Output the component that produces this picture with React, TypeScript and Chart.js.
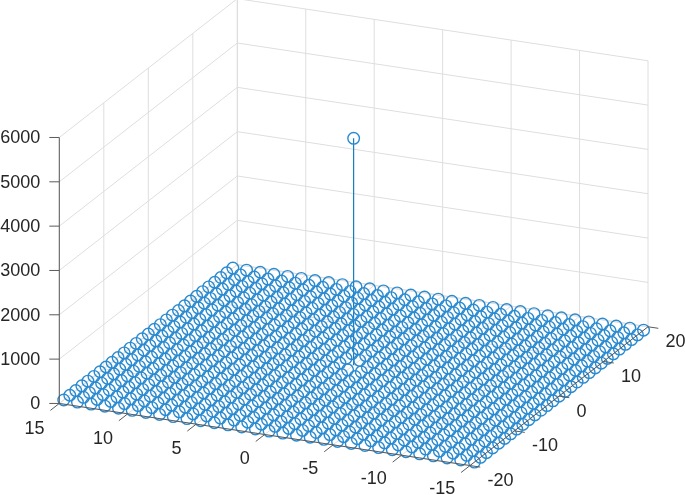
import React, { useEffect, useRef } from "react";
import { Chart, registerables } from "chart.js";

Chart.register(...registerables);

// Values
const xValues = [-15,-14,-13,-12,-11,-10,-9,-8,-7,-6,-5,-4,-3,-2,-1,0,1,2,3,4,5,6,7,8,9,10,11,12,13,14,15];
const yValues = [-19,-17.64,-16.29,-14.93,-13.57,-12.21,-10.86,-9.5,-8.14,-6.79,-5.43,-4.07,-2.71,-1.36,0,1.36,2.71,4.07,5.43,6.79,8.14,9.5,10.86,12.21,13.57,14.93,16.29,17.64,19];
const peakX = 0;
const peakY = 0;
const peakZ = 5116;
const xTicks = [15, 10, 5, 0, -5, -10, -15];
const yTicks = [-20, -10, 0, 10, 20];
const zTicks = [0, 1000, 2000, 3000, 4000, 5000, 6000];

const BLUE = "#0072BD";
const GRID = "#dedede";
const AXIS = "#5a5a5a";
const TEXT = "#262626";
const FONT = '18px "Liberation Sans", Arial, sans-serif';

// Oblique view of the box (MATLAB-style 3-D axes) on a page-sized plane
const view = { cx: 353.65, cy: 365.1, xx: -13.69, xy: -2.07, yx: 4.45, yy: -3.47, zy: -0.04433 };
const project = (x: number, y: number, z: number) => ({
  x: view.cx + view.xx * x + view.yx * y,
  y: view.cy + view.xy * x + view.yy * y + view.zy * z,
});
const GAP = { x: NaN, y: NaN };
const xMin = -15, xMax = 15, yMin = -20, yMax = 20, zMin = 0, zMax = 6000;

type P = { x: number; y: number };
const seg = (out: P[], a: number[], b: number[]) => {
  out.push(project(a[0], a[1], a[2]), project(b[0], b[1], b[2]), GAP);
};

function gridPoints() {
  const out: P[] = [];
  for (const x of xTicks) {
    seg(out, [x, yMin, zMin], [x, yMax, zMin]);
    seg(out, [x, yMax, zMin], [x, yMax, zMax]);
  }
  for (const y of yTicks) {
    seg(out, [xMin, y, zMin], [xMax, y, zMin]);
    seg(out, [xMax, y, zMin], [xMax, y, zMax]);
  }
  for (const z of zTicks) {
    seg(out, [xMax, yMin, z], [xMax, yMax, z]);
    seg(out, [xMax, yMax, z], [xMin, yMax, z]);
  }
  return out;
}

function axisPoints() {
  const out: P[] = [];
  seg(out, [xMax, yMin, zMin], [xMin, yMin, zMin]);
  seg(out, [xMin, yMin, zMin], [xMin, yMax, zMin]);
  seg(out, [xMax, yMin, zMin], [xMax, yMin, zMax]);
  for (const x of xTicks) seg(out, [x, yMin, zMin], [x, yMin - 2, zMin]);
  for (const y of yTicks) seg(out, [xMin, y, zMin], [xMin - 0.75, y, zMin]);
  for (const z of zTicks) {
    const p = project(xMax, yMin, z);
    out.push(p, { x: p.x - 10, y: p.y }, GAP);
  }
  return out;
}

const zAt = (x: number, y: number) => (x === peakX && y === peakY ? peakZ : 0);

function stemPoints() {
  const out: P[] = [];
  for (const x of xValues) for (const y of yValues) {
    const z = zAt(x, y);
    if (z !== 0) seg(out, [x, y, 0], [x, y, z]);
  }
  return out;
}

function markerPoints() {
  const out: P[] = [];
  for (const x of xValues) for (const y of yValues) out.push(project(x, y, zAt(x, y)));
  return out;
}

const tickLabels = {
  id: "tickLabels",
  afterDraw(chart: Chart) {
    const { ctx, scales } = chart;
    const sx = (v: number) => scales.x.getPixelForValue(v);
    const sy = (v: number) => scales.y.getPixelForValue(v);
    ctx.save();
    ctx.font = FONT;
    ctx.fillStyle = TEXT;
    ctx.textBaseline = "middle";
    ctx.textAlign = "right";
    for (const z of zTicks) {
      const p = project(xMax, yMin, z);
      ctx.fillText(String(z), sx(p.x) - 19, sy(p.y) + 1);
    }
    for (const x of xTicks) {
      const p = project(x, yMin, zMin);
      ctx.fillText(String(x), sx(p.x) - 14.8, sy(p.y) + 26 - (15 - x) * 0.09);
    }
    ctx.textAlign = "left";
    for (const y of yTicks) {
      const p = project(xMin, y, zMin);
      ctx.fillText(String(y), sx(p.x) + 17.5, sy(p.y) + 15.5);
    }
    ctx.restore();
  },
};

export default function App() {
  const ref = useRef<HTMLCanvasElement>(null);
  useEffect(() => {
    const line = (data: P[], color: string, width: number, order: number) => ({
      data,
      showLine: true,
      spanGaps: false,
      borderColor: color,
      borderWidth: width,
      pointRadius: 0,
      clip: false,
      order,
    });
    const chart = new Chart(ref.current!, {
      type: "scatter",
      data: {
        datasets: [
          line(gridPoints(), GRID, 1, 4),
          line(stemPoints(), BLUE, 1.1, 3),
          {
            data: markerPoints(),
            showLine: false,
            pointStyle: "circle",
            pointRadius: 5.8,
            pointBorderWidth: 1.4,
            pointBorderColor: "#2a8ad0",
            pointBackgroundColor: "rgba(0,0,0,0)",
            clip: false,
            order: 2,
          },
          line(axisPoints(), AXIS, 1, 1),
        ],
      } as any,
      options: {
        animation: false,
        responsive: false,
        events: [],
        layout: { padding: 0, autoPadding: false },
        plugins: { legend: { display: false }, tooltip: { enabled: false } },
        scales: {
          x: { type: "linear", min: 0, max: 685, display: false },
          y: { type: "linear", min: 0, max: 495, reverse: true, display: false },
        },
      },
      plugins: [tickLabels],
    });
    return () => chart.destroy();
  }, []);
  return (
    <canvas
      ref={ref}
      width={685}
      height={495}
      style={{ position: "fixed", left: 0, top: 0, width: 685, height: 495, filter: "blur(0.5px)" }}
    />
  );
}
